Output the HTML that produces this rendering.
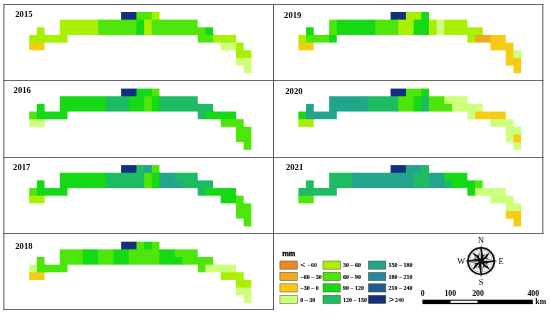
<!DOCTYPE html><html><head><meta charset="utf-8"><title>map</title><style>html,body{margin:0;padding:0;background:#fff}svg{display:block}text{font-family:"Liberation Serif",serif}text.ss{font-family:"Liberation Sans",sans-serif}</style></head><body>
<svg width="550" height="314" viewBox="0 0 550 314">
<rect width="550" height="314" fill="#fff"/>
<g>
<rect x="121.12" y="12.00" width="15.88" height="7.65" fill="#13307E"/>
<rect x="136.44" y="12.00" width="15.56" height="7.65" fill="#4EE60A"/>
<rect x="151.76" y="12.00" width="7.66" height="7.65" fill="#A8F000"/>
<rect x="121.12" y="19" width="15.88" height="1" fill="#13307E"/>
<rect x="136.44" y="19" width="15.56" height="1" fill="#4EE60A"/>
<rect x="151.76" y="19" width="8.24" height="1" fill="#A8F000"/>
<rect x="59.84" y="19.65" width="39.16" height="7.65" fill="#A8F000"/>
<rect x="98.14" y="19.65" width="38.86" height="7.65" fill="#4EE60A"/>
<rect x="136.44" y="19.65" width="8.56" height="7.65" fill="#14D914"/>
<rect x="144.10" y="19.65" width="7.90" height="7.65" fill="#A8F000"/>
<rect x="151.76" y="19.65" width="45.96" height="7.65" fill="#4EE60A"/>
<rect x="59.84" y="27" width="39.16" height="1" fill="#A8F000"/>
<rect x="98.14" y="27" width="38.86" height="1" fill="#4EE60A"/>
<rect x="136.44" y="27" width="8.56" height="1" fill="#14D914"/>
<rect x="144.10" y="27" width="7.90" height="1" fill="#A8F000"/>
<rect x="151.76" y="27" width="46.24" height="1" fill="#4EE60A"/>
<rect x="36.86" y="27.30" width="7.66" height="7.65" fill="#A8F000"/>
<rect x="59.84" y="27.30" width="39.16" height="7.65" fill="#A8F000"/>
<rect x="98.14" y="27.30" width="38.86" height="7.65" fill="#4EE60A"/>
<rect x="136.44" y="27.30" width="8.56" height="7.65" fill="#14D914"/>
<rect x="144.10" y="27.30" width="7.90" height="7.65" fill="#A8F000"/>
<rect x="151.76" y="27.30" width="54.24" height="7.65" fill="#4EE60A"/>
<rect x="205.38" y="27.30" width="7.66" height="7.65" fill="#14D914"/>
<rect x="36.86" y="34" width="8.14" height="1" fill="#A8F000"/>
<rect x="59.84" y="34" width="7.66" height="1" fill="#A8F000"/>
<rect x="197.72" y="34" width="8.28" height="1" fill="#4EE60A"/>
<rect x="205.38" y="34" width="8.62" height="1" fill="#14D914"/>
<rect x="29.20" y="34.95" width="38.30" height="7.65" fill="#A8F000"/>
<rect x="197.72" y="34.95" width="16.28" height="7.65" fill="#4EE60A"/>
<rect x="213.04" y="34.95" width="22.98" height="7.65" fill="#A8F000"/>
<rect x="29.20" y="42" width="15.32" height="1" fill="#A8F000"/>
<rect x="220.70" y="42" width="16.30" height="1" fill="#A8F000"/>
<rect x="29.20" y="42.60" width="15.32" height="7.65" fill="#F7CB14"/>
<rect x="220.70" y="42.60" width="16.30" height="7.65" fill="#CCFF7A"/>
<rect x="236.02" y="42.60" width="7.66" height="7.65" fill="#A8F000"/>
<rect x="236.02" y="50" width="7.98" height="1" fill="#A8F000"/>
<rect x="236.02" y="50.25" width="15.32" height="7.65" fill="#A8F000"/>
<rect x="236.02" y="57" width="15.32" height="1" fill="#A8F000"/>
<rect x="236.02" y="57.90" width="15.32" height="7.65" fill="#CCFF7A"/>
<rect x="243.68" y="65" width="7.66" height="1" fill="#CCFF7A"/>
<rect x="243.68" y="65.55" width="7.66" height="7.65" fill="#CCFF7A"/>
</g>
<g>
<rect x="121.12" y="88.60" width="15.88" height="7.65" fill="#13307E"/>
<rect x="136.44" y="88.60" width="15.56" height="7.65" fill="#14D914"/>
<rect x="151.76" y="88.60" width="7.66" height="7.65" fill="#4EE60A"/>
<rect x="121.12" y="96" width="15.88" height="1" fill="#13307E"/>
<rect x="136.44" y="96" width="15.56" height="1" fill="#14D914"/>
<rect x="151.76" y="96" width="8.24" height="1" fill="#4EE60A"/>
<rect x="59.84" y="96.25" width="46.16" height="7.65" fill="#14D914"/>
<rect x="105.80" y="96.25" width="23.20" height="7.65" fill="#1DBB62"/>
<rect x="128.78" y="96.25" width="16.22" height="7.65" fill="#14D914"/>
<rect x="144.10" y="96.25" width="7.90" height="7.65" fill="#4EE60A"/>
<rect x="151.76" y="96.25" width="8.24" height="7.65" fill="#14D914"/>
<rect x="159.42" y="96.25" width="38.30" height="7.65" fill="#1DBB62"/>
<rect x="59.84" y="103" width="46.16" height="1" fill="#14D914"/>
<rect x="105.80" y="103" width="23.20" height="1" fill="#1DBB62"/>
<rect x="128.78" y="103" width="16.22" height="1" fill="#14D914"/>
<rect x="144.10" y="103" width="7.90" height="1" fill="#4EE60A"/>
<rect x="151.76" y="103" width="8.24" height="1" fill="#14D914"/>
<rect x="159.42" y="103" width="38.58" height="1" fill="#1DBB62"/>
<rect x="36.86" y="103.90" width="7.66" height="7.65" fill="#14D914"/>
<rect x="59.84" y="103.90" width="46.16" height="7.65" fill="#14D914"/>
<rect x="105.80" y="103.90" width="23.20" height="7.65" fill="#1DBB62"/>
<rect x="128.78" y="103.90" width="16.22" height="7.65" fill="#14D914"/>
<rect x="144.10" y="103.90" width="7.90" height="7.65" fill="#4EE60A"/>
<rect x="151.76" y="103.90" width="8.24" height="7.65" fill="#14D914"/>
<rect x="159.42" y="103.90" width="53.62" height="7.65" fill="#1DBB62"/>
<rect x="36.86" y="111" width="8.14" height="1" fill="#14D914"/>
<rect x="59.84" y="111" width="7.66" height="1" fill="#14D914"/>
<rect x="197.72" y="111" width="16.28" height="1" fill="#1DBB62"/>
<rect x="29.20" y="111.55" width="7.80" height="7.65" fill="#4EE60A"/>
<rect x="36.86" y="111.55" width="30.64" height="7.65" fill="#14D914"/>
<rect x="197.72" y="111.55" width="8.28" height="7.65" fill="#1DBB62"/>
<rect x="205.38" y="111.55" width="30.64" height="7.65" fill="#14D914"/>
<rect x="29.20" y="119" width="7.80" height="1" fill="#4EE60A"/>
<rect x="36.86" y="119" width="7.66" height="1" fill="#14D914"/>
<rect x="220.70" y="119" width="16.30" height="1" fill="#14D914"/>
<rect x="29.20" y="119.20" width="15.32" height="7.65" fill="#CCFF7A"/>
<rect x="220.70" y="119.20" width="22.98" height="7.65" fill="#4EE60A"/>
<rect x="236.02" y="126" width="7.98" height="1" fill="#4EE60A"/>
<rect x="236.02" y="126.85" width="15.32" height="7.65" fill="#4EE60A"/>
<rect x="236.02" y="134" width="15.32" height="1" fill="#4EE60A"/>
<rect x="236.02" y="134.50" width="15.32" height="7.65" fill="#4EE60A"/>
<rect x="243.68" y="142" width="7.66" height="1" fill="#4EE60A"/>
<rect x="243.68" y="142.15" width="7.66" height="7.65" fill="#4EE60A"/>
</g>
<g>
<rect x="121.12" y="165.10" width="15.88" height="7.65" fill="#13307E"/>
<rect x="136.44" y="165.10" width="8.56" height="7.65" fill="#1DBB62"/>
<rect x="144.10" y="165.10" width="7.90" height="7.65" fill="#22A58B"/>
<rect x="151.76" y="165.10" width="7.66" height="7.65" fill="#4EE60A"/>
<rect x="121.12" y="172" width="15.88" height="1" fill="#13307E"/>
<rect x="136.44" y="172" width="8.56" height="1" fill="#1DBB62"/>
<rect x="144.10" y="172" width="7.90" height="1" fill="#22A58B"/>
<rect x="151.76" y="172" width="8.24" height="1" fill="#4EE60A"/>
<rect x="59.84" y="172.75" width="46.16" height="7.65" fill="#14D914"/>
<rect x="105.80" y="172.75" width="39.20" height="7.65" fill="#1DBB62"/>
<rect x="144.10" y="172.75" width="7.90" height="7.65" fill="#4EE60A"/>
<rect x="151.76" y="172.75" width="8.24" height="7.65" fill="#14D914"/>
<rect x="159.42" y="172.75" width="15.58" height="7.65" fill="#22A58B"/>
<rect x="174.74" y="172.75" width="22.98" height="7.65" fill="#1DBB62"/>
<rect x="59.84" y="180" width="46.16" height="1" fill="#14D914"/>
<rect x="105.80" y="180" width="39.20" height="1" fill="#1DBB62"/>
<rect x="144.10" y="180" width="7.90" height="1" fill="#4EE60A"/>
<rect x="151.76" y="180" width="8.24" height="1" fill="#14D914"/>
<rect x="159.42" y="180" width="15.58" height="1" fill="#22A58B"/>
<rect x="174.74" y="180" width="23.26" height="1" fill="#1DBB62"/>
<rect x="36.86" y="180.40" width="7.66" height="7.65" fill="#14D914"/>
<rect x="59.84" y="180.40" width="46.16" height="7.65" fill="#14D914"/>
<rect x="105.80" y="180.40" width="39.20" height="7.65" fill="#1DBB62"/>
<rect x="144.10" y="180.40" width="7.90" height="7.65" fill="#4EE60A"/>
<rect x="151.76" y="180.40" width="8.24" height="7.65" fill="#14D914"/>
<rect x="159.42" y="180.40" width="23.58" height="7.65" fill="#22A58B"/>
<rect x="182.40" y="180.40" width="30.64" height="7.65" fill="#1DBB62"/>
<rect x="36.86" y="188" width="8.14" height="1" fill="#14D914"/>
<rect x="59.84" y="188" width="7.66" height="1" fill="#14D914"/>
<rect x="197.72" y="188" width="16.28" height="1" fill="#1DBB62"/>
<rect x="29.20" y="188.05" width="7.80" height="7.65" fill="#4EE60A"/>
<rect x="36.86" y="188.05" width="30.64" height="7.65" fill="#14D914"/>
<rect x="197.72" y="188.05" width="8.28" height="7.65" fill="#1DBB62"/>
<rect x="205.38" y="188.05" width="30.64" height="7.65" fill="#14D914"/>
<rect x="29.20" y="195" width="7.80" height="1" fill="#4EE60A"/>
<rect x="36.86" y="195" width="7.66" height="1" fill="#14D914"/>
<rect x="220.70" y="195" width="16.30" height="1" fill="#14D914"/>
<rect x="29.20" y="195.70" width="15.32" height="7.65" fill="#A8F000"/>
<rect x="220.70" y="195.70" width="16.30" height="7.65" fill="#14D914"/>
<rect x="236.02" y="195.70" width="7.66" height="7.65" fill="#4EE60A"/>
<rect x="236.02" y="203" width="7.98" height="1" fill="#4EE60A"/>
<rect x="236.02" y="203.35" width="15.32" height="7.65" fill="#4EE60A"/>
<rect x="236.02" y="211" width="15.32" height="1" fill="#4EE60A"/>
<rect x="236.02" y="211.00" width="15.32" height="7.65" fill="#4EE60A"/>
<rect x="243.68" y="218" width="7.66" height="1" fill="#4EE60A"/>
<rect x="243.68" y="218.65" width="7.66" height="7.65" fill="#4EE60A"/>
</g>
<g>
<rect x="121.12" y="241.70" width="15.88" height="7.65" fill="#13307E"/>
<rect x="136.44" y="241.70" width="8.56" height="7.65" fill="#4EE60A"/>
<rect x="144.10" y="241.70" width="7.90" height="7.65" fill="#14D914"/>
<rect x="151.76" y="241.70" width="7.66" height="7.65" fill="#4EE60A"/>
<rect x="121.12" y="249" width="15.88" height="1" fill="#13307E"/>
<rect x="136.44" y="249" width="8.56" height="1" fill="#4EE60A"/>
<rect x="144.10" y="249" width="7.90" height="1" fill="#14D914"/>
<rect x="151.76" y="249" width="8.24" height="1" fill="#4EE60A"/>
<rect x="59.84" y="249.35" width="23.16" height="7.65" fill="#4EE60A"/>
<rect x="82.82" y="249.35" width="16.18" height="7.65" fill="#14D914"/>
<rect x="98.14" y="249.35" width="15.86" height="7.65" fill="#4EE60A"/>
<rect x="113.46" y="249.35" width="15.54" height="7.65" fill="#14D914"/>
<rect x="128.78" y="249.35" width="31.22" height="7.65" fill="#4EE60A"/>
<rect x="159.42" y="249.35" width="15.58" height="7.65" fill="#14D914"/>
<rect x="174.74" y="249.35" width="22.98" height="7.65" fill="#4EE60A"/>
<rect x="59.84" y="257" width="23.16" height="1" fill="#4EE60A"/>
<rect x="82.82" y="257" width="16.18" height="1" fill="#14D914"/>
<rect x="98.14" y="257" width="15.86" height="1" fill="#4EE60A"/>
<rect x="113.46" y="257" width="15.54" height="1" fill="#14D914"/>
<rect x="128.78" y="257" width="31.22" height="1" fill="#4EE60A"/>
<rect x="159.42" y="257" width="15.58" height="1" fill="#14D914"/>
<rect x="174.74" y="257" width="23.26" height="1" fill="#4EE60A"/>
<rect x="36.86" y="257.00" width="7.66" height="7.65" fill="#4EE60A"/>
<rect x="59.84" y="257.00" width="23.16" height="7.65" fill="#4EE60A"/>
<rect x="82.82" y="257.00" width="16.18" height="7.65" fill="#14D914"/>
<rect x="98.14" y="257.00" width="15.86" height="7.65" fill="#4EE60A"/>
<rect x="113.46" y="257.00" width="15.54" height="7.65" fill="#14D914"/>
<rect x="128.78" y="257.00" width="31.22" height="7.65" fill="#4EE60A"/>
<rect x="159.42" y="257.00" width="23.58" height="7.65" fill="#14D914"/>
<rect x="182.40" y="257.00" width="30.64" height="7.65" fill="#4EE60A"/>
<rect x="36.86" y="264" width="8.14" height="1" fill="#4EE60A"/>
<rect x="59.84" y="264" width="7.66" height="1" fill="#4EE60A"/>
<rect x="197.72" y="264" width="16.28" height="1" fill="#4EE60A"/>
<rect x="29.20" y="264.65" width="7.80" height="7.65" fill="#CCFF7A"/>
<rect x="36.86" y="264.65" width="30.64" height="7.65" fill="#4EE60A"/>
<rect x="197.72" y="264.65" width="8.28" height="7.65" fill="#4EE60A"/>
<rect x="205.38" y="264.65" width="30.64" height="7.65" fill="#CCFF7A"/>
<rect x="29.20" y="272" width="7.80" height="1" fill="#CCFF7A"/>
<rect x="36.86" y="272" width="7.66" height="1" fill="#4EE60A"/>
<rect x="220.70" y="272" width="16.30" height="1" fill="#CCFF7A"/>
<rect x="29.20" y="272.30" width="15.32" height="7.65" fill="#F7CB14"/>
<rect x="220.70" y="272.30" width="22.98" height="7.65" fill="#A8F000"/>
<rect x="236.02" y="279" width="7.98" height="1" fill="#A8F000"/>
<rect x="236.02" y="279.95" width="15.32" height="7.65" fill="#A8F000"/>
<rect x="236.02" y="287" width="15.32" height="1" fill="#A8F000"/>
<rect x="236.02" y="287.60" width="15.32" height="7.65" fill="#CCFF7A"/>
<rect x="243.68" y="295" width="7.66" height="1" fill="#CCFF7A"/>
<rect x="243.68" y="295.25" width="7.66" height="7.65" fill="#CCFF7A"/>
</g>
<g>
<rect x="390.56" y="12.00" width="15.44" height="7.65" fill="#13307E"/>
<rect x="405.92" y="12.00" width="16.08" height="7.65" fill="#A8F000"/>
<rect x="421.28" y="12.00" width="7.68" height="7.65" fill="#14D914"/>
<rect x="390.56" y="19" width="15.44" height="1" fill="#13307E"/>
<rect x="405.92" y="19" width="16.08" height="1" fill="#A8F000"/>
<rect x="421.28" y="19" width="7.72" height="1" fill="#14D914"/>
<rect x="329.12" y="19.65" width="7.88" height="7.65" fill="#4EE60A"/>
<rect x="336.80" y="19.65" width="39.20" height="7.65" fill="#14D914"/>
<rect x="375.20" y="19.65" width="23.80" height="7.65" fill="#4EE60A"/>
<rect x="398.24" y="19.65" width="15.76" height="7.65" fill="#A8F000"/>
<rect x="413.60" y="19.65" width="15.40" height="7.65" fill="#14D914"/>
<rect x="428.96" y="19.65" width="8.04" height="7.65" fill="#A8F000"/>
<rect x="436.64" y="19.65" width="8.36" height="7.65" fill="#CCFF7A"/>
<rect x="444.32" y="19.65" width="23.04" height="7.65" fill="#A8F000"/>
<rect x="329.12" y="27" width="7.88" height="1" fill="#4EE60A"/>
<rect x="336.80" y="27" width="39.20" height="1" fill="#14D914"/>
<rect x="375.20" y="27" width="23.80" height="1" fill="#4EE60A"/>
<rect x="398.24" y="27" width="15.76" height="1" fill="#A8F000"/>
<rect x="413.60" y="27" width="15.40" height="1" fill="#14D914"/>
<rect x="428.96" y="27" width="8.04" height="1" fill="#A8F000"/>
<rect x="436.64" y="27" width="8.36" height="1" fill="#CCFF7A"/>
<rect x="444.32" y="27" width="23.68" height="1" fill="#A8F000"/>
<rect x="306.08" y="27.30" width="7.68" height="7.65" fill="#14D914"/>
<rect x="329.12" y="27.30" width="7.88" height="7.65" fill="#4EE60A"/>
<rect x="336.80" y="27.30" width="39.20" height="7.65" fill="#14D914"/>
<rect x="375.20" y="27.30" width="23.80" height="7.65" fill="#4EE60A"/>
<rect x="398.24" y="27.30" width="15.76" height="7.65" fill="#A8F000"/>
<rect x="413.60" y="27.30" width="15.40" height="7.65" fill="#14D914"/>
<rect x="428.96" y="27.30" width="8.04" height="7.65" fill="#A8F000"/>
<rect x="436.64" y="27.30" width="8.36" height="7.65" fill="#CCFF7A"/>
<rect x="444.32" y="27.30" width="38.40" height="7.65" fill="#A8F000"/>
<rect x="306.08" y="34" width="7.92" height="1" fill="#14D914"/>
<rect x="329.12" y="34" width="7.68" height="1" fill="#4EE60A"/>
<rect x="467.36" y="34" width="15.64" height="1" fill="#A8F000"/>
<rect x="298.40" y="34.95" width="8.60" height="7.65" fill="#A8F000"/>
<rect x="306.08" y="34.95" width="23.92" height="7.65" fill="#4EE60A"/>
<rect x="329.12" y="34.95" width="7.68" height="7.65" fill="#14D914"/>
<rect x="467.36" y="34.95" width="8.64" height="7.65" fill="#A8F000"/>
<rect x="475.04" y="34.95" width="15.96" height="7.65" fill="#F0A81E"/>
<rect x="490.40" y="34.95" width="15.36" height="7.65" fill="#F7CB14"/>
<rect x="298.40" y="42" width="8.60" height="1" fill="#A8F000"/>
<rect x="306.08" y="42" width="7.68" height="1" fill="#4EE60A"/>
<rect x="490.40" y="42" width="15.60" height="1" fill="#F7CB14"/>
<rect x="298.40" y="42.60" width="15.36" height="7.65" fill="#F7CB14"/>
<rect x="490.40" y="42.60" width="23.04" height="7.65" fill="#F7CB14"/>
<rect x="505.76" y="50" width="8.24" height="1" fill="#F7CB14"/>
<rect x="505.76" y="50.25" width="8.24" height="7.65" fill="#F7CB14"/>
<rect x="513.44" y="50.25" width="7.68" height="7.65" fill="#CCFF7A"/>
<rect x="505.76" y="57" width="8.24" height="1" fill="#F7CB14"/>
<rect x="513.44" y="57" width="7.68" height="1" fill="#CCFF7A"/>
<rect x="505.76" y="57.90" width="15.36" height="7.65" fill="#F7CB14"/>
<rect x="513.44" y="65" width="7.68" height="1" fill="#F7CB14"/>
<rect x="513.44" y="65.55" width="7.68" height="7.65" fill="#F7CB14"/>
</g>
<g>
<rect x="390.56" y="88.60" width="15.44" height="7.65" fill="#13307E"/>
<rect x="405.92" y="88.60" width="16.08" height="7.65" fill="#4EE60A"/>
<rect x="421.28" y="88.60" width="7.68" height="7.65" fill="#14D914"/>
<rect x="390.56" y="96" width="15.44" height="1" fill="#13307E"/>
<rect x="405.92" y="96" width="16.08" height="1" fill="#4EE60A"/>
<rect x="421.28" y="96" width="7.72" height="1" fill="#14D914"/>
<rect x="329.12" y="96.25" width="38.88" height="7.65" fill="#22A58B"/>
<rect x="367.52" y="96.25" width="31.48" height="7.65" fill="#1DBB62"/>
<rect x="398.24" y="96.25" width="15.76" height="7.65" fill="#4EE60A"/>
<rect x="413.60" y="96.25" width="8.40" height="7.65" fill="#14D914"/>
<rect x="421.28" y="96.25" width="7.72" height="7.65" fill="#1DBB62"/>
<rect x="428.96" y="96.25" width="16.04" height="7.65" fill="#4EE60A"/>
<rect x="444.32" y="96.25" width="23.04" height="7.65" fill="#CCFF7A"/>
<rect x="329.12" y="103" width="38.88" height="1" fill="#22A58B"/>
<rect x="367.52" y="103" width="31.48" height="1" fill="#1DBB62"/>
<rect x="398.24" y="103" width="15.76" height="1" fill="#4EE60A"/>
<rect x="413.60" y="103" width="8.40" height="1" fill="#14D914"/>
<rect x="421.28" y="103" width="7.72" height="1" fill="#1DBB62"/>
<rect x="428.96" y="103" width="16.04" height="1" fill="#4EE60A"/>
<rect x="444.32" y="103" width="23.68" height="1" fill="#CCFF7A"/>
<rect x="306.08" y="103.90" width="7.68" height="7.65" fill="#22A58B"/>
<rect x="329.12" y="103.90" width="38.88" height="7.65" fill="#22A58B"/>
<rect x="367.52" y="103.90" width="31.48" height="7.65" fill="#1DBB62"/>
<rect x="398.24" y="103.90" width="15.76" height="7.65" fill="#4EE60A"/>
<rect x="413.60" y="103.90" width="8.40" height="7.65" fill="#14D914"/>
<rect x="421.28" y="103.90" width="7.72" height="7.65" fill="#1DBB62"/>
<rect x="428.96" y="103.90" width="24.04" height="7.65" fill="#4EE60A"/>
<rect x="452.00" y="103.90" width="30.72" height="7.65" fill="#CCFF7A"/>
<rect x="306.08" y="111" width="7.92" height="1" fill="#22A58B"/>
<rect x="329.12" y="111" width="7.68" height="1" fill="#22A58B"/>
<rect x="467.36" y="111" width="15.64" height="1" fill="#CCFF7A"/>
<rect x="298.40" y="111.55" width="8.60" height="7.65" fill="#14D914"/>
<rect x="306.08" y="111.55" width="30.72" height="7.65" fill="#22A58B"/>
<rect x="467.36" y="111.55" width="8.64" height="7.65" fill="#CCFF7A"/>
<rect x="475.04" y="111.55" width="30.72" height="7.65" fill="#F7CB14"/>
<rect x="298.40" y="119" width="8.60" height="1" fill="#14D914"/>
<rect x="306.08" y="119" width="7.68" height="1" fill="#22A58B"/>
<rect x="490.40" y="119" width="15.60" height="1" fill="#F7CB14"/>
<rect x="298.40" y="119.20" width="15.36" height="7.65" fill="#A8F000"/>
<rect x="490.40" y="119.20" width="23.04" height="7.65" fill="#CCFF7A"/>
<rect x="505.76" y="126" width="8.24" height="1" fill="#CCFF7A"/>
<rect x="505.76" y="126.85" width="15.36" height="7.65" fill="#CCFF7A"/>
<rect x="505.76" y="134" width="15.36" height="1" fill="#CCFF7A"/>
<rect x="505.76" y="134.50" width="8.24" height="7.65" fill="#CCFF7A"/>
<rect x="513.44" y="134.50" width="7.68" height="7.65" fill="#F7CB14"/>
<rect x="513.44" y="142" width="7.68" height="1" fill="#F7CB14"/>
<rect x="513.44" y="142.15" width="7.68" height="7.65" fill="#CCFF7A"/>
</g>
<g>
<rect x="390.56" y="165.10" width="15.44" height="7.65" fill="#13307E"/>
<rect x="405.92" y="165.10" width="16.08" height="7.65" fill="#22A58B"/>
<rect x="421.28" y="165.10" width="7.68" height="7.65" fill="#1DBB62"/>
<rect x="390.56" y="172" width="15.44" height="1" fill="#13307E"/>
<rect x="405.92" y="172" width="16.08" height="1" fill="#22A58B"/>
<rect x="421.28" y="172" width="7.72" height="1" fill="#1DBB62"/>
<rect x="329.12" y="172.75" width="23.88" height="7.65" fill="#1DBB62"/>
<rect x="352.16" y="172.75" width="61.84" height="7.65" fill="#22A58B"/>
<rect x="413.60" y="172.75" width="15.40" height="7.65" fill="#1DBB62"/>
<rect x="428.96" y="172.75" width="16.04" height="7.65" fill="#22A58B"/>
<rect x="444.32" y="172.75" width="23.04" height="7.65" fill="#14D914"/>
<rect x="329.12" y="180" width="23.88" height="1" fill="#1DBB62"/>
<rect x="352.16" y="180" width="61.84" height="1" fill="#22A58B"/>
<rect x="413.60" y="180" width="15.40" height="1" fill="#1DBB62"/>
<rect x="428.96" y="180" width="16.04" height="1" fill="#22A58B"/>
<rect x="444.32" y="180" width="23.68" height="1" fill="#14D914"/>
<rect x="306.08" y="180.40" width="7.68" height="7.65" fill="#1DBB62"/>
<rect x="329.12" y="180.40" width="23.88" height="7.65" fill="#1DBB62"/>
<rect x="352.16" y="180.40" width="61.84" height="7.65" fill="#22A58B"/>
<rect x="413.60" y="180.40" width="15.40" height="7.65" fill="#1DBB62"/>
<rect x="428.96" y="180.40" width="16.04" height="7.65" fill="#22A58B"/>
<rect x="444.32" y="180.40" width="8.68" height="7.65" fill="#1DBB62"/>
<rect x="452.00" y="180.40" width="24.00" height="7.65" fill="#14D914"/>
<rect x="475.04" y="180.40" width="7.68" height="7.65" fill="#4EE60A"/>
<rect x="306.08" y="188" width="7.92" height="1" fill="#1DBB62"/>
<rect x="329.12" y="188" width="7.68" height="1" fill="#1DBB62"/>
<rect x="467.36" y="188" width="8.64" height="1" fill="#14D914"/>
<rect x="475.04" y="188" width="7.96" height="1" fill="#4EE60A"/>
<rect x="298.40" y="188.05" width="38.40" height="7.65" fill="#1DBB62"/>
<rect x="467.36" y="188.05" width="8.64" height="7.65" fill="#14D914"/>
<rect x="475.04" y="188.05" width="30.72" height="7.65" fill="#CCFF7A"/>
<rect x="298.40" y="195" width="15.36" height="1" fill="#1DBB62"/>
<rect x="490.40" y="195" width="15.60" height="1" fill="#CCFF7A"/>
<rect x="298.40" y="195.70" width="15.36" height="7.65" fill="#4EE60A"/>
<rect x="490.40" y="195.70" width="23.04" height="7.65" fill="#CCFF7A"/>
<rect x="505.76" y="203" width="8.24" height="1" fill="#CCFF7A"/>
<rect x="505.76" y="203.35" width="15.36" height="7.65" fill="#CCFF7A"/>
<rect x="505.76" y="211" width="15.36" height="1" fill="#CCFF7A"/>
<rect x="505.76" y="211.00" width="15.36" height="7.65" fill="#F7CB14"/>
<rect x="513.44" y="218" width="7.68" height="1" fill="#F7CB14"/>
<rect x="513.44" y="218.65" width="7.68" height="7.65" fill="#F7CB14"/>
</g>
<line x1="3.5" y1="4.5" x2="543.5" y2="4.5" stroke="#686868" stroke-width="1"/>
<line x1="3.5" y1="80.5" x2="543.5" y2="80.5" stroke="#686868" stroke-width="1"/>
<line x1="3.5" y1="157.5" x2="543.5" y2="157.5" stroke="#686868" stroke-width="1"/>
<line x1="3.5" y1="233.5" x2="543.5" y2="233.5" stroke="#686868" stroke-width="1"/>
<line x1="3.5" y1="309.5" x2="273.5" y2="309.5" stroke="#686868" stroke-width="1"/>
<line x1="3.9" y1="4" x2="3.9" y2="310" stroke="#555" stroke-width="1"/>
<line x1="273.5" y1="4" x2="273.5" y2="310" stroke="#555" stroke-width="1"/>
<line x1="542.8" y1="4" x2="542.8" y2="234" stroke="#555" stroke-width="1"/>
<text x="15.3" y="17.2" font-size="8.6" font-weight="bold" fill="#000">2015</text>
<text x="13.6" y="92.8" font-size="8.6" font-weight="bold" fill="#000">2016</text>
<text x="13.1" y="170.3" font-size="8.6" font-weight="bold" fill="#000">2017</text>
<text x="15.3" y="249.3" font-size="8.6" font-weight="bold" fill="#000">2018</text>
<text x="284.1" y="17.8" font-size="8.6" font-weight="bold" fill="#000">2019</text>
<text x="285.3" y="94.1" font-size="8.6" font-weight="bold" fill="#000">2020</text>
<text x="286.0" y="169.9" font-size="8.6" font-weight="bold" fill="#000">2021</text>
<text x="282.2" y="256.0" font-size="7.4" font-weight="bold" class="ss" stroke="#000" stroke-width="0.35">mm</text>
<rect x="279.9" y="261.0" width="17.4" height="8.2" fill="#E6892A" stroke="rgba(70,60,20,0.75)" stroke-width="0.6"/>
<text y="267.3" font-size="6" font-weight="bold"><tspan x="300.1" font-size="6.9" font-weight="normal" font-family="DejaVu Sans, sans-serif">&lt;</tspan><tspan x="307.6">−60</tspan></text>
<rect x="279.9" y="272.4" width="17.4" height="8.2" fill="#F0A81E" stroke="rgba(70,60,20,0.75)" stroke-width="0.6"/>
<text x="300.3" y="278.7" font-size="6" font-weight="bold" stroke="#000" stroke-width="0.12">−60 – 30</text>
<rect x="279.9" y="283.8" width="17.4" height="8.2" fill="#F7CB14" stroke="rgba(70,60,20,0.75)" stroke-width="0.6"/>
<text x="300.3" y="290.1" font-size="6" font-weight="bold" stroke="#000" stroke-width="0.12">−30 – 0</text>
<rect x="279.9" y="295.3" width="17.4" height="8.2" fill="#CCFF7A" stroke="rgba(70,60,20,0.75)" stroke-width="0.6"/>
<text x="300.3" y="301.6" font-size="6" font-weight="bold" stroke="#000" stroke-width="0.12">0 – 30</text>
<rect x="323.0" y="261.0" width="17.4" height="8.2" fill="#A8F000" stroke="rgba(70,60,20,0.75)" stroke-width="0.6"/>
<text x="343.1" y="267.3" font-size="6" font-weight="bold" stroke="#000" stroke-width="0.12">30 – 60</text>
<rect x="323.0" y="272.4" width="17.4" height="8.2" fill="#4EE60A" stroke="rgba(70,60,20,0.75)" stroke-width="0.6"/>
<text x="343.1" y="278.7" font-size="6" font-weight="bold" stroke="#000" stroke-width="0.12">60 – 90</text>
<rect x="323.0" y="283.8" width="17.4" height="8.2" fill="#14D914" stroke="rgba(70,60,20,0.75)" stroke-width="0.6"/>
<text x="343.1" y="290.1" font-size="6" font-weight="bold" stroke="#000" stroke-width="0.12">90 – 120</text>
<rect x="323.0" y="295.3" width="17.4" height="8.2" fill="#1DBB62" stroke="rgba(70,60,20,0.75)" stroke-width="0.6"/>
<text x="343.1" y="301.6" font-size="6" font-weight="bold" stroke="#000" stroke-width="0.12">120 – 150</text>
<rect x="368.4" y="261.0" width="17.4" height="8.2" fill="#22A58B" stroke="rgba(70,60,20,0.75)" stroke-width="0.6"/>
<text x="388.5" y="267.3" font-size="6" font-weight="bold" stroke="#000" stroke-width="0.12">150 – 180</text>
<rect x="368.4" y="272.4" width="17.4" height="8.2" fill="#22889A" stroke="rgba(70,60,20,0.75)" stroke-width="0.6"/>
<text x="388.5" y="278.7" font-size="6" font-weight="bold" stroke="#000" stroke-width="0.12">180 – 210</text>
<rect x="368.4" y="283.8" width="17.4" height="8.2" fill="#1E5E8E" stroke="rgba(70,60,20,0.75)" stroke-width="0.6"/>
<text x="388.5" y="290.1" font-size="6" font-weight="bold" stroke="#000" stroke-width="0.12">210 – 240</text>
<rect x="368.4" y="295.3" width="17.4" height="8.2" fill="#13307E" stroke="rgba(70,60,20,0.75)" stroke-width="0.6"/>
<text y="301.6" font-size="6" font-weight="bold"><tspan x="388.2" font-size="7.7" font-weight="normal" font-family="DejaVu Sans, sans-serif">&gt;</tspan><tspan x="395.0">240</tspan></text>
<rect x="422.4" y="299.7" width="110.4" height="4.4" fill="#000"/>
<rect x="450.5" y="300.75" width="27.1" height="2.1" fill="#fff"/>
<text x="422.6" y="296.3" font-size="7.8" font-weight="bold" text-anchor="middle">0</text>
<text x="450.3" y="296.3" font-size="7.8" font-weight="bold" text-anchor="middle">100</text>
<text x="478" y="296.3" font-size="7.8" font-weight="bold" text-anchor="middle">200</text>
<text x="533.3" y="296.3" font-size="7.8" font-weight="bold" text-anchor="middle">400</text>
<text x="535.3" y="303.8" font-size="7.8" font-weight="bold">km</text>
<g transform="translate(481.1,261.1)">
<circle r="13.2" fill="none" stroke="#111" stroke-width="1.8"/>
<circle r="11.2" fill="none" stroke="#222" stroke-width="0.3"/>
<line x1="5.51" y1="-13.30" x2="5.97" y2="-14.41" stroke="#555" stroke-width="0.45"/>
<line x1="10.18" y1="-10.18" x2="11.03" y2="-11.03" stroke="#555" stroke-width="0.45"/>
<line x1="13.30" y1="-5.51" x2="14.41" y2="-5.97" stroke="#555" stroke-width="0.45"/>
<line x1="13.30" y1="5.51" x2="14.41" y2="5.97" stroke="#555" stroke-width="0.45"/>
<line x1="10.18" y1="10.18" x2="11.03" y2="11.03" stroke="#555" stroke-width="0.45"/>
<line x1="5.51" y1="13.30" x2="5.97" y2="14.41" stroke="#555" stroke-width="0.45"/>
<line x1="-5.51" y1="13.30" x2="-5.97" y2="14.41" stroke="#555" stroke-width="0.45"/>
<line x1="-10.18" y1="10.18" x2="-11.03" y2="11.03" stroke="#555" stroke-width="0.45"/>
<line x1="-13.30" y1="5.51" x2="-14.41" y2="5.97" stroke="#555" stroke-width="0.45"/>
<line x1="-13.30" y1="-5.51" x2="-14.41" y2="-5.97" stroke="#555" stroke-width="0.45"/>
<line x1="-10.18" y1="-10.18" x2="-11.03" y2="-11.03" stroke="#555" stroke-width="0.45"/>
<line x1="-5.51" y1="-13.30" x2="-5.97" y2="-14.41" stroke="#555" stroke-width="0.45"/>
<polygon points="0.00,0.00 -0.92,-0.92 3.60,-8.68 1.30,-0.00" fill="#444"/>
<polygon points="0.00,0.00 0.00,-1.30 8.68,-3.60 0.92,0.92" fill="#444"/>
<polygon points="0.00,0.00 0.92,-0.92 8.68,3.60 0.00,1.30" fill="#444"/>
<polygon points="0.00,0.00 1.30,-0.00 3.60,8.68 -0.92,0.92" fill="#444"/>
<polygon points="0.00,0.00 0.92,0.92 -3.60,8.68 -1.30,0.00" fill="#444"/>
<polygon points="0.00,0.00 0.00,1.30 -8.68,3.60 -0.92,-0.92" fill="#444"/>
<polygon points="0.00,0.00 -0.92,0.92 -8.68,-3.60 -0.00,-1.30" fill="#444"/>
<polygon points="0.00,0.00 -1.30,0.00 -3.60,-8.68 0.92,-0.92" fill="#444"/>
<polygon points="0.00,0.00 0.00,-4.00 8.70,-8.70 4.00,-0.00" fill="#111"/><polygon points="1.17,-1.98 1.17,-4.18 5.96,-6.77" fill="#fff"/>
<polygon points="0.00,0.00 4.00,-0.00 8.70,8.70 0.00,4.00" fill="#111"/><polygon points="1.98,1.17 4.18,1.17 6.77,5.96" fill="#fff"/>
<polygon points="0.00,0.00 0.00,4.00 -8.70,8.70 -4.00,0.00" fill="#111"/><polygon points="-1.17,1.98 -1.17,4.18 -5.96,6.77" fill="#fff"/>
<polygon points="0.00,0.00 -4.00,0.00 -8.70,-8.70 -0.00,-4.00" fill="#111"/><polygon points="-1.98,-1.17 -4.18,-1.17 -6.77,-5.96" fill="#fff"/>
<polygon points="0.00,0.00 -2.55,-2.55 0.00,-16.40 2.55,-2.55" fill="#111"/><polygon points="-0.44,-2.30 -2.01,-3.88 -0.44,-12.47" fill="#fff"/>
<polygon points="0.00,0.00 2.55,-2.55 16.40,-0.00 2.55,2.55" fill="#111"/><polygon points="2.30,-0.44 3.88,-2.01 12.47,-0.44" fill="#fff"/>
<polygon points="0.00,0.00 2.55,2.55 0.00,16.40 -2.55,2.55" fill="#111"/><polygon points="0.44,2.30 2.01,3.88 0.44,12.47" fill="#fff"/>
<polygon points="0.00,0.00 -2.55,2.55 -16.40,0.00 -2.55,-2.55" fill="#111"/><polygon points="-2.30,0.44 -3.88,2.01 -12.47,0.44" fill="#fff"/>
</g>
<text x="481" y="242.9" font-size="8.3" text-anchor="middle">N</text>
<text x="481" y="284.8" font-size="8.3" text-anchor="middle">S</text>
<text x="461.1" y="263.8" font-size="8.3" text-anchor="middle">W</text>
<text x="501.1" y="263.8" font-size="8.3" text-anchor="middle">E</text>
</svg></body></html>
